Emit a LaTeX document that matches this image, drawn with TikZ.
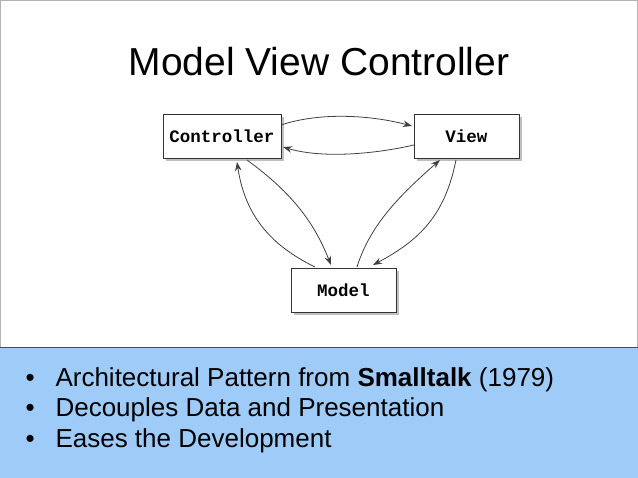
\documentclass[tikz,border=0pt]{standalone}
\usepackage{fontspec}
\setmainfont{Liberation Sans}
\newfontfamily\monof{Liberation Mono}
\usetikzlibrary{arrows.meta}
\definecolor{panel}{HTML}{9FCBF8}
\begin{document}
\begin{tikzpicture}[x=1pt,y=-1pt,
  box/.style={draw=black!80,fill=white,line width=0.9pt,minimum height=44pt,font=\monof\bfseries\fontsize{17.5}{18}\selectfont},
  con/.style={draw=black!75,line width=0.8pt,-{Stealth[length=9pt,width=6.5pt]}},
  bul/.style={anchor=west,font=\fontsize{26}{28}\selectfont}]
\useasboundingbox (0,0) rectangle (638,478);
\fill[white] (0,0) rectangle (638,478);
\draw[black!30,line width=1pt] (0.5,0.5) rectangle (637.5,477.5);
\fill[panel] (0,348) rectangle (638,478);
\draw[black!70,line width=1pt] (0,348) -- (638,348);
\node (title) at (319,62) {\fontsize{39}{42}\selectfont Model View Controller};
\fill[black!25] (166,117) rectangle (284,161);
\fill[black!25] (417,117) rectangle (522,161);
\fill[black!25] (294,271) rectangle (399,315);
\node[box,minimum width=118pt] (c) at (222,136) {Controller};
\node[box,minimum width=105pt] (v) at (466.5,136) {View};
\node[box,minimum width=105pt] (m) at (343.5,290) {Model};
\draw[con] (281,125) .. controls (320,112) and (370,115) .. (412,126);
\draw[con] (414,145) .. controls (370,155) and (320,158) .. (283,147);
\draw[con] (315,267) .. controls (270,245) and (245,215) .. (237,162);
\draw[con] (247,160) .. controls (295,195) and (315,225) .. (331,265);
\draw[con] (357,267) .. controls (370,225) and (400,195) .. (440,160);
\draw[con] (456,160) .. controls (445,215) and (420,240) .. (373,265);
\node[bul] (d1) at (22,380) {•};
\node[bul] (d2) at (22,410) {•};
\node[bul] (d3) at (22,441) {•};
\node[bul] (b1) at (52,380) {Architectural Pattern from \textbf{Smalltalk} (1979)};
\node[bul] (b2) at (52,410) {Decouples Data and Presentation};
\node[bul] (b3) at (52,441) {Eases the Development};
\end{tikzpicture}
\end{document}
